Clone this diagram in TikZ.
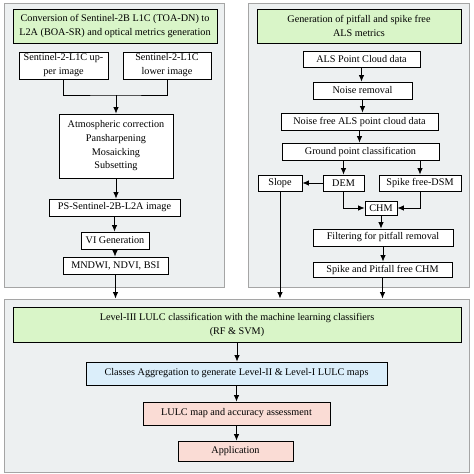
\documentclass[tikz,border=0pt]{standalone}
\usepackage{fontspec}
\setmainfont{Liberation Serif}
\usetikzlibrary{arrows.meta}
\definecolor{panelgray}{RGB}{237,240,241}
\definecolor{panelline}{RGB}{165,165,165}
\definecolor{titlegreen}{RGB}{217,245,200}
\definecolor{aggblue}{RGB}{219,238,250}
\definecolor{maprose}{RGB}{250,220,213}
\tikzset{
  panel/.style={draw=panelline, fill=panelgray, line width=1pt, inner sep=0pt},
  stepbox/.style={draw=black, fill=white, line width=0.8pt, inner sep=0pt, align=center, font=\fontsize{10.2}{14}\selectfont},
  flow/.style={-{Latex[length=6.5pt,width=5.5pt]}, line width=0.8pt},
}

\begin{document}
\begin{tikzpicture}[x=1pt,y=1pt,yscale=-1]
\useasboundingbox (0,0) rectangle (474,474);

%Shape: Panels
\node[panel, minimum width=220pt, minimum height=284pt] (leftpanel) at (114,145) {};
\node[panel, minimum width=221pt, minimum height=284pt] (rightpanel) at (358.5,145) {};
\node[panel, minimum width=465pt, minimum height=173pt] (lowpanel) at (236.5,385.5) {};

% Text Node: Sentinel branch
\node[stepbox, fill=titlegreen, minimum width=204pt, minimum height=34pt] (s2title) at (115,26) {Conversion of Sentinel-2B L1C (TOA-DN) to\\L2A (BOA-SR) and optical metrics generation};
\node[stepbox, minimum width=89pt, minimum height=27pt] (upimg) at (63.5,65.5) {Sentinel-2-L1C up-\\per image};
\node[stepbox, minimum width=88pt, minimum height=27pt] (lowimg) at (167,65.5) {Sentinel-2-L1C\\lower image};
\node[stepbox, minimum width=114pt, minimum height=64pt, font=\fontsize{10.2}{13.7}\selectfont] (atmos) at (116,146) {Atmospheric correction\\Pansharpening\\Mosaicking\\Subsetting};
\node[stepbox, minimum width=131pt, minimum height=17pt] (ps) at (114.5,207.5) {PS-Sentinel-2B-L2A image};
\node[stepbox, minimum width=68pt, minimum height=17pt] (vigen) at (115,240.5) {VI Generation};
\node[stepbox, minimum width=105pt, minimum height=17pt] (mndwi) at (115.5,265.5) {MNDWI, NDVI, BSI};

% Text Node: ALS branch
\node[stepbox, fill=titlegreen, minimum width=204pt, minimum height=34pt] (alstitle) at (359,26) {Generation of pitfall and spike free\\ALS metrics};
\node[stepbox, minimum width=117pt, minimum height=16pt] (als) at (361.5,59) {ALS Point Cloud data};
\node[stepbox, minimum width=99pt, minimum height=17pt] (noise) at (362.5,90.5) {Noise removal};
\node[stepbox, minimum width=157pt, minimum height=17pt] (noisefree) at (359.5,121.5) {Noise free ALS point cloud data};
\node[stepbox, minimum width=157pt, minimum height=17pt] (ground) at (360.5,151.5) {Ground point classification};
\node[stepbox, minimum width=44pt, minimum height=16pt] (slope) at (280,183) {Slope};
\node[stepbox, minimum width=41pt, minimum height=16pt] (dem) at (343.5,183) {DEM};
\node[stepbox, minimum width=82pt, minimum height=16pt] (dsm) at (420,183) {Spike free-DSM};
\node[stepbox, minimum width=32pt, minimum height=14pt] (chm) at (381,208) {CHM};
\node[stepbox, minimum width=140pt, minimum height=17pt] (filter) at (383,237.5) {Filtering for pitfall removal};
\node[stepbox, minimum width=139pt, minimum height=15pt] (spikefree) at (382.5,269.5) {Spike and Pitfall free CHM};

% Text Node: classification
\node[stepbox, fill=titlegreen, minimum width=448pt, minimum height=35pt] (level3) at (237,324.5) {Level-III LULC classification with the machine learning classifiers\\(RF \& SVM)};
\node[stepbox, fill=aggblue, minimum width=301pt, minimum height=23pt] (aggr) at (236.5,373.5) {Classes Aggregation to generate Level-II \& Level-I LULC maps};
\node[stepbox, fill=maprose, minimum width=187pt, minimum height=23pt] (lulcmap) at (236.5,413.5) {LULC map and accuracy assessment};
\node[stepbox, fill=maprose, minimum width=115pt, minimum height=20pt] (appl) at (235.5,451) {Application};

%Straight Lines
\coordinate (join) at (116,95);
\draw[line width=0.8pt] (upimg.south) |- (join) -| (lowimg.south);
\draw[flow] (join) -- (atmos.north);
\draw[flow] (atmos.south) -- (atmos.south |- ps.north);
\draw[flow] (ps.south) -- (ps.south |- vigen.north);
\draw[flow] (vigen.south) -- (vigen.south |- mndwi.north);
\draw[flow] (mndwi.south) -- (mndwi.south |- lowpanel.north);

\draw[flow] (als.south) -- (als.south |- noise.north);
\draw[flow] (noise.south) -- (noise.south |- noisefree.north);
\draw[flow] (noisefree.south) -- (noisefree.south |- ground.north);
\draw[flow] (dem.north |- ground.south) -- (dem.north);
\draw[flow] (dsm.north |- ground.south) -- (dsm.north);
\draw[flow] (dem.west) -- (slope.east);
\draw[flow] (dem.south) |- (chm.west);
\draw[flow] (dsm.south) |- (chm.east);
\draw[flow] (chm.south) -- (chm.south |- filter.north);
\draw[flow] (filter.south) -- (filter.south |- spikefree.north);
\draw[flow] (slope.south) -- (slope.south |- lowpanel.north);
\draw[flow] (spikefree.south) -- (spikefree.south |- lowpanel.north);

\draw[flow] (level3.south) -- (level3.south |- aggr.north);
\draw[flow] (aggr.south) -- (aggr.south |- lulcmap.north);
\draw[flow] (lulcmap.south) -- (lulcmap.south |- appl.north);

\end{tikzpicture}
\end{document}
